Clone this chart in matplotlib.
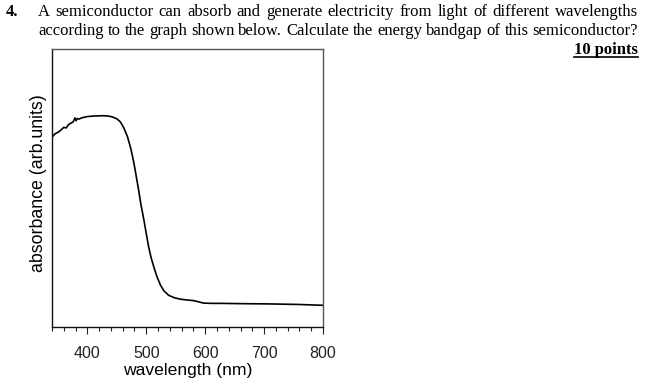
import numpy as np
import matplotlib.pyplot as plt
from matplotlib.ticker import MultipleLocator

# absorbance curve (arbitrary units, 0..1 of the axis height)
wavelength = [341, 345, 350, 355, 360, 364, 368, 372, 376, 379, 381, 383, 386, 390,
              400, 412, 425, 435, 442, 450, 456, 462, 468, 474, 479, 483, 487, 491, 496,
              500, 504, 508, 513, 518, 524, 530, 538, 548, 558, 570, 580, 590, 597, 610,
              626, 660, 710, 760, 800]
absorbance = [0.685, 0.695, 0.700, 0.708, 0.718, 0.716, 0.728, 0.733, 0.738, 0.752, 0.742,
              0.750, 0.748, 0.752, 0.757, 0.759, 0.760, 0.759, 0.756, 0.749, 0.738, 0.716,
              0.685, 0.640, 0.590, 0.542, 0.493, 0.440, 0.385, 0.336, 0.289, 0.251, 0.215,
              0.182, 0.151, 0.130, 0.114, 0.105, 0.100, 0.097, 0.095, 0.090, 0.086, 0.085,
              0.085, 0.084, 0.083, 0.081, 0.078]

xticks = [400, 500, 600, 700, 800]

line1 = "A semiconductor can absorb and generate electricity from light of different wavelengths"
line2 = "according to the graph shown below. Calculate the energy bandgap of this semiconductor?"

fig = plt.figure(figsize=(6.6, 3.83), dpi=100)
ax = fig.add_axes([52/660, 1 - 327/383, 271/660, 278/383])

ax.plot(wavelength, absorbance, color='black', lw=1.2)
ax.set_xlim(340, 800)
ax.set_ylim(0, 1)
ax.set_xticks(xticks)
ax.xaxis.set_minor_locator(MultipleLocator(20))
ax.set_yticks([])
ax.tick_params(axis='x', which='major', direction='out', length=5, width=0.8,
               labelsize=11.5, pad=9, colors='#222')
ax.tick_params(axis='x', which='minor', direction='out', length=3, width=0.8, colors='#222')
for s in ax.spines.values():
    s.set_color('#555')
    s.set_linewidth(1)
ax.spines['left'].set_color('#111')
ax.spines['bottom'].set_color('#111')

for lab in ax.get_xticklabels():
    lab.set_family('Liberation Sans')
ax.set_xlabel('wavelength (nm)', fontsize=12.6, family='Liberation Sans', labelpad=1)
ax.set_ylabel('absorbance (arb.units)', fontsize=12.8, family='Liberation Sans')
ax.yaxis.set_label_coords(-0.018, 0.517)

# header text, justified between x=38 and x=638 px
renderer = fig.canvas.get_renderer()
W, H = 660, 383
FS = 12


def justify(text, y_px, x0=38, x1=638, size=FS):
    words = text.split()
    objs = [fig.text(0, 1 - y_px/H, w, fontsize=size, family='Liberation Serif',
                     va='baseline') for w in words]
    widths = [o.get_window_extent(renderer).width for o in objs]
    gap = (x1 - x0 - sum(widths)) / (len(words) - 1)
    x = x0
    for o, w in zip(objs, widths):
        o.set_x(x / W)
        x += w + gap


fig.text(6/W, 1 - 16/H, '4.', fontsize=FS, family='Liberation Serif', weight='bold',
         va='baseline')
justify(line1, 16)
justify(line2, 35)
pts = fig.text(638/W, 1 - 54/H, '10 points', fontsize=FS, family='Liberation Serif',
               weight='bold', ha='right', va='baseline')
bb = pts.get_window_extent(renderer)
fig.add_artist(plt.Line2D([bb.x0/W, bb.x1/W], [(H - 56.5)/H, (H - 56.5)/H],
                          color='black', lw=1.2))

fig.savefig('out.png', dpi=100)
